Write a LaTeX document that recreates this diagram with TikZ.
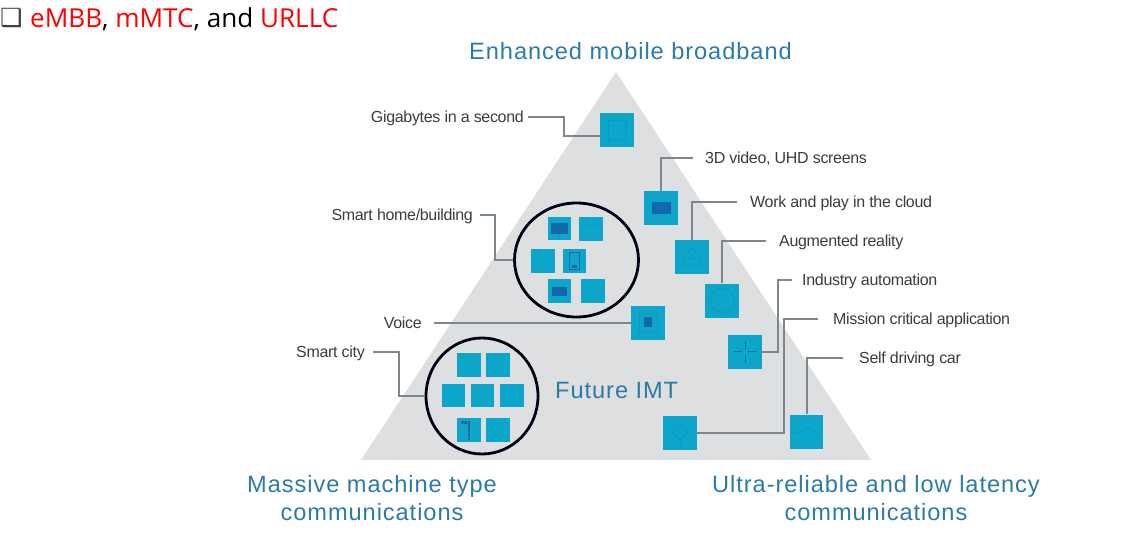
\documentclass[tikz,border=0pt]{standalone}
\usepackage{fontspec}
\setmainfont{Liberation Sans}
\newfontfamily\titlefont{Open Sans}
\newfontfamily\boxfont{DejaVu Sans}
\newfontfamily\headfont[LetterSpace=4]{Liberation Sans}
\newfontfamily\labelfont[LetterSpace=-2]{Liberation Sans}
\usetikzlibrary{calc,shapes.geometric}
\definecolor{tribg}{HTML}{DDDFE0}
\definecolor{sqblue}{HTML}{0BA6C9}
\definecolor{glyphblue}{HTML}{1467A8}
\definecolor{glyphsoft}{HTML}{1593C2}
\definecolor{linegrey}{HTML}{7C878D}
\definecolor{headblue}{HTML}{2A7CA6}
\definecolor{labelgrey}{HTML}{3C3C3C}
\tikzset{
    bigsq/.style={fill=sqblue,minimum width=33.5,minimum height=34,inner sep=0},
    smallsq/.style={fill=sqblue,minimum width=23.5,minimum height=23.5,inner sep=0},
    usecase/.style={font=\labelfont\fontsize{16}{16}\selectfont,text=labelgrey,inner sep=0,text height=12.5,text depth=1.5},
    heading/.style={font=\headfont\fontsize{23.6}{28}\selectfont,text=headblue,align=center,inner sep=0},
    link/.style={draw=linegrey,line width=2},
    ring/.style={draw=black!92!blue,line width=2.8,inner sep=0},
    pics/monitor/.style={code={
        \fill[glyphblue] (-9.5,-6) rectangle (9.5,6);
        \draw[glyphsoft,line width=0.8] (0,6) -- (0,11);
    }},
    pics/phone/.style={code={
        \draw[glyphblue,line width=1.2] (-5,-9) rectangle (5,9);
        \fill[glyphblue] (-3,4) rectangle (3,7);
    }},
    pics/voicecell/.style={code={
        \draw[glyphsoft,line width=0.7] (-9,-9) rectangle (9,9);
        \fill[glyphblue] (-4,-6) rectangle (4,4);
    }},
    pics/outline/.style={code={
        \draw[glyphsoft,line width=0.7] (-9,-10) rectangle (9,10);
    }},
    pics/homecell/.style={code={
        \draw[glyphsoft,line width=0.7] (-8,-2) -- (0,-9) -- (8,-2) -- (8,8) -- (-8,8) -- cycle;
        \draw[glyphsoft,line width=0.7] (-4,1) -- (4,1);
    }},
    pics/roundcell/.style={code={
        \draw[glyphsoft,line width=0.8] (0,0) circle (12);
    }},
    pics/crosscell/.style={code={
        \draw[glyphblue,line width=1] (-11,0) -- (-3,0) (3,0) -- (11,0) (0,-11) -- (0,-3) (0,3) -- (0,11);
    }},
    pics/ringcell/.style={code={
        \draw[glyphsoft,line width=0.8] (0,0) circle (6);
        \draw[glyphsoft,line width=0.8] (-12,0) -- (-6,0) (6,0) -- (12,0) (0,-12) -- (0,-6) (0,6) -- (0,12);
    }},
    pics/carcell/.style={code={
        \draw[glyphsoft,line width=0.8] (-12,1) -- (-5,1) -- (-2,-3) -- (5,-3) -- (8,1) -- (12,1);
    }},
    pics/bentcell/.style={code={
        \fill[glyphblue] (-8,-9) rectangle (-2,-6);
        \draw[glyphblue,line width=1.2] (0,-9) -- (0,10);
    }},
    pics/dashcell/.style={code={
        \draw[glyphsoft,line width=0.7] (-6,-4) -- (6,-4);
    }},
}
\begin{document}
\begin{tikzpicture}[x=1pt,y=-1pt]
    \useasboundingbox (0,0) rectangle (1125,544);
    % triangle and the two rings
    \fill[tribg] (616,72) -- (871,460) -- (361,460) -- cycle;
    \node[ring,ellipse,minimum width=124,minimum height=114] (ringhome) at (576.5,260) {};
    \node[ring,ellipse,minimum width=112,minimum height=116] (ringcity) at (482,396) {};

    % headline
    \node[anchor=west,inner sep=0,font=\boxfont\fontsize{25}{25}\selectfont,text=black!75] (bullet) at (0,18) {❑};
    \node[anchor=west,inner sep=0,font=\titlefont\fontsize{26.1}{26}\selectfont] (headline) at (30,19)
        {\textcolor{red}{eMBB}, \textcolor{red}{mMTC}, and \textcolor{red}{URLLC}};

    % corner headings
    \node[heading] (embb) at (630.5,51) {Enhanced mobile broadband};
    \node[heading] (mmtc) at (372,498) {Massive machine type\\communications};
    \node[heading] (urllc) at (876,498) {Ultra-reliable and low latency\\communications};
    \node[heading,anchor=west] (imt) at (555,390) {Future IMT};

    % large squares
    \node[bigsq] (sqgiga) at (617,130) {};
    \node[bigsq] (sqvideo) at (661,208) {};
    \node[bigsq] (sqcloud) at (692,257) {};
    \node[bigsq] (sqar) at (722,300.5) {};
    \node[bigsq] (sqindustry) at (745,351.5) {};
    \node[bigsq] (sqmission) at (680,432.5) {};
    \node[bigsq] (sqcar) at (806.5,431.5) {};
    \node[bigsq] (sqvoice) at (648,322.5) {};

    % squares in the rings
    \node[smallsq] (hometl) at (559.5,228.5) {};
    \node[smallsq] (hometr) at (591,229) {};
    \node[smallsq] (homeml) at (543,261) {};
    \node[smallsq] (homemr) at (574.5,261) {};
    \node[smallsq] (homebl) at (559.5,291) {};
    \node[smallsq] (homebr) at (593,291) {};
    \foreach \cname/\cx/\cy in {citytl/469/365,citytr/498/365,cityml/453.5/395.5,citymm/482.5/395.5,citymr/512/395.5,citybl/469/430,citybr/498/430}
        \node[smallsq] (\cname) at (\cx,\cy) {};

    % glyphs
    \pic at (sqgiga) {outline};
    \pic at (sqvideo) {monitor};
    \pic at (sqcloud) {homecell};
    \pic at (sqar) {roundcell};
    \pic at (sqindustry) {crosscell};
    \pic at (sqmission) {ringcell};
    \pic at (sqcar) {carcell};
    \pic at (sqvoice) {voicecell};
    \pic[scale=0.85] at (hometl) {monitor};
    \pic[scale=0.75] at (homebl) {monitor};
    \pic at (hometr) {dashcell};
    \pic[scale=0.95] at (homemr) {phone};
    \pic[scale=0.95] at (citybl) {bentcell};

    % labels
    \node[usecase,anchor=east] (labgiga) at (524,116.5) {Gigabytes in a second};
    \node[usecase,anchor=west] (labvideo) at (705,158) {3D video, UHD screens};
    \node[usecase,anchor=west] (labcloud) at (750,201.5) {Work and play in the cloud};
    \node[usecase,anchor=west] (labar) at (779,240.5) {Augmented reality};
    \node[usecase,anchor=west] (labindustry) at (802,280) {Industry automation};
    \node[usecase,anchor=west] (labmission) at (833,318.5) {Mission critical application};
    \node[usecase,anchor=west] (labcar) at (859,357.5) {Self driving car};
    \node[usecase,anchor=east] (labhome) at (473,215) {Smart home/building};
    \node[usecase,anchor=east] (labvoice) at (422,322.5) {Voice};
    \node[usecase,anchor=east] (labcity) at (365,352) {Smart city};

    % connectors
    \draw[link,shorten <=4] (labgiga.east) -| ($(sqgiga.west)+(-36,6)$) -- ($(sqgiga.west)+(0,6)$);
    \draw[link,shorten <=12] (labvideo.west) -| (sqvideo.north);
    \draw[link,shorten <=13] (labcloud.west) -| (sqcloud.north);
    \draw[link,shorten <=13] (labar.west) -| (sqar.north);
    \draw[link,shorten <=10] (labindustry.west) -| ($(sqindustry.east)+(16,0)$) -- (sqindustry.east);
    \draw[link,shorten <=15] (labmission.west) -| ($(sqmission.east)+(87,0)$) -- (sqmission.east);
    \draw[link,shorten <=16] (labcar.west) -| (sqcar.north);
    \draw[link,shorten <=7] (labhome.east) -| ($(ringhome.west)+(-18,0)$) -- (ringhome.west);
    \draw[link,shorten <=12] (labvoice.east) -- (sqvoice.west);
    \draw[link,shorten <=8] (labcity.east) -| ($(ringcity.west)+(-26,0)$) -- (ringcity.west);
\end{tikzpicture}
\end{document}
